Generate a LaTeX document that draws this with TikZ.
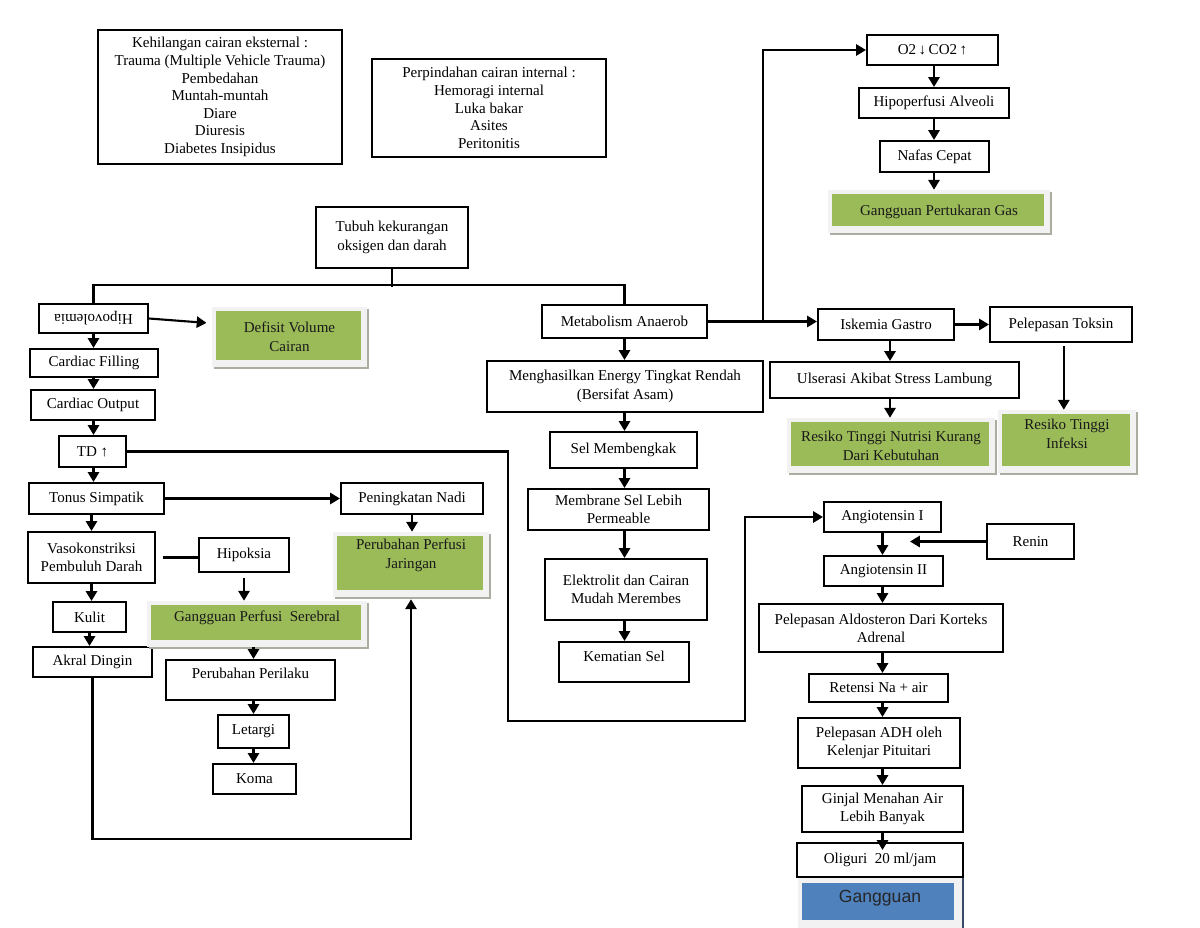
\documentclass[tikz,border=0pt]{standalone}
\usepackage{fontspec}
\setmainfont{Liberation Serif}
\newfontfamily\sansf{Liberation Sans}
\usetikzlibrary{arrows.meta,shadows}
\definecolor{gr}{HTML}{9BBB59}
\definecolor{bl}{HTML}{4F81BD}
\definecolor{frm}{HTML}{F2F2F2}
\definecolor{shd}{HTML}{A9AEA0}
\definecolor{bshd}{HTML}{3A4A66}
\newcommand\mkbox[7][box]{\node[#1, minimum width={(#5-#3)*0.025cm}, minimum height={(#6-#4)*0.025cm}] (#2) at ({(#3+#5)/2},{(#4+#6)/2}) {#7};}
\tikzset{
  box/.style={draw, line width=1.5pt, inner sep=0pt, align=center, fill=white,
    font=\fontsize{10.7}{13}\selectfont},
  gbox/.style={fill=frm, inner sep=0pt, align=center, text=black!90,
    font=\fontsize{10.7}{13.5}\selectfont,
    drop shadow={shadow xshift=0.05cm, shadow yshift=-0.05cm, fill=shd, opacity=1},
    path picture={\fill[gr] ([shift={(4,4)}]path picture bounding box.north west) rectangle ([shift={(-6,-7)}]path picture bounding box.south east);}},
  bbox/.style={fill=frm, inner sep=0pt, align=center, text=black!85,
    font=\sansf\fontsize{12.5}{14}\selectfont, text depth=10pt,
    drop shadow={shadow xshift=0.05cm, shadow yshift=0cm, fill=bshd, opacity=1},
    path picture={\fill[bl] ([shift={(4,5)}]path picture bounding box.north west) rectangle ([shift={(-8,-8)}]path picture bounding box.south east);}},
  ln/.style={line width=1.5pt},
  arr/.style={line width=1.5pt, -{Triangle[length=7pt,width=8pt]}}
}
\begin{document}
\begin{tikzpicture}[x=0.025cm,y=-0.025cm]
\useasboundingbox (0,0) rectangle (1200,927);
% top boxes
\mkbox[box,font=\fontsize{10.7}{12.5}\selectfont]{keh}{98}{30}{342}{164}{Kehilangan cairan eksternal :\\Trauma (Multiple Vehicle Trauma)\\Pembedahan\\Muntah-muntah\\Diare\\Diuresis\\Diabetes Insipidus}
\mkbox[box,font=\fontsize{10.7}{12.5}\selectfont]{perp}{372}{59}{606}{157}{Perpindahan cairan internal :\\Hemoragi internal\\Luka bakar\\Asites\\Peritonitis}
\mkbox{tubuh}{316}{207}{468}{268}{Tubuh kekurangan\\oksigen dan darah}
% left column
\mkbox{hipo}{39}{304}{148}{333}{\rotatebox{180}{Hipovolemia}}
\mkbox[gbox]{defisit}{212}{307}{367}{367}{Defisit Volume\\Cairan}
\mkbox{cfill}{30}{349}{158}{377}{Cardiac Filling}
\mkbox{cout}{31}{390}{155}{420}{Cardiac Output}
\mkbox{td}{59}{436}{126}{467}{TD ↑}
\mkbox{tonus}{29}{483}{164}{514}{Tonus Simpatik}
\mkbox{nadi}{341}{483}{483}{514}{Peningkatan Nadi}
\mkbox[gbox]{pjar}{333}{532}{489}{597}{Perubahan Perfusi\\Jaringan\\[2pt]}
\mkbox{vaso}{28}{532}{155}{583}{Vasokonstriksi\\Pembuluh Darah}
\mkbox{hipok}{199}{538}{289}{572}{Hipoksia}
\mkbox{kulit}{53}{602}{126}{632}{Kulit}
\mkbox{akral}{33}{647}{152}{677}{Akral Dingin}
\mkbox[gbox]{serebral}{147}{601}{367}{647}{Gangguan Perfusi\ \ Serebral\\[-2pt]\mbox{}}
\mkbox{perilaku}{166}{660}{335}{700}{Perubahan Perilaku\\[-3pt]\mbox{}}
\mkbox{letargi}{218}{715}{289}{748}{Letargi}
\mkbox{koma}{213}{764}{296}{794}{Koma}
% middle column
\mkbox{metab}{542}{305}{707}{338}{Metabolism Anaerob}
\mkbox{energi}{487}{361}{763}{412}{Menghasilkan Energy Tingkat Rendah\\(Bersifat Asam)}
\mkbox{sel}{550}{432}{697}{468}{Sel Membengkak}
\mkbox{membr}{528}{489}{709}{530}{Membrane Sel Lebih\\Permeable}
\mkbox{elek}{545}{559}{707}{620}{Elektrolit dan Cairan\\Mudah Merembes}
\mkbox{mati}{559}{642}{689}{682}{Kematian Sel\\[-5pt]\mbox{}}
% top right
\mkbox{otwo}{867}{35}{998}{65}{O2\,↓\,CO2\,↑}
\mkbox{alveoli}{859}{88}{1009}{118}{Hipoperfusi Alveoli}
\mkbox{nafas}{880}{141}{989}{172}{Nafas Cepat}
\mkbox[gbox]{gas}{828}{190}{1050}{233}{Gangguan Pertukaran Gas}
% right
\mkbox{iskemia}{818}{309}{954}{340}{Iskemia Gastro}
\mkbox{toksin}{990}{307}{1132}{342}{Pelepasan Toksin}
\mkbox{ulser}{770}{362}{1019}{398}{Ulserasi Akibat Stress Lambung}
\mkbox[gbox]{nutrisi}{787}{418}{995}{473}{Resiko Tinggi Nutrisi Kurang\\Dari Kebutuhan}
\mkbox[gbox]{infeksi}{998}{410}{1136}{473}{Resiko Tinggi\\Infeksi\\[-2pt]\mbox{}}
\mkbox{ang1}{824}{502}{941}{532}{Angiotensin I}
\mkbox{renin}{987}{524}{1074}{559}{Renin}
\mkbox{ang2}{824}{556}{943}{586}{Angiotensin II}
\mkbox{aldo}{759}{604}{1003}{652}{Pelepasan Aldosteron Dari Korteks\\Adrenal}
\mkbox{retensi}{809}{674}{948}{702}{Retensi Na + air}
\mkbox{adh}{798}{718}{960}{768}{Pelepasan ADH oleh\\Kelenjar Pituitari}
\mkbox{ginjal}{802}{786}{963}{832}{Ginjal Menahan Air\\Lebih Banyak}
\mkbox{oliguri}{797}{843}{963}{877}{Oliguri\ \ 20 ml/jam}
\mkbox[bbox]{gangguan}{798}{878}{962}{928}{Gangguan}
% connectors
\draw[ln] (tubuh.south) -- ++(0,18);
\draw[ln] (hipo.north) -- ++(0,-18) -| (metab.north);
\draw[arr, shorten >=0.13cm] (hipo.east) -- (defisit.170);
\draw[arr] (hipo.south) -- (hipo.south |- cfill.north);
\draw[arr] (hipo.south |- cfill.south) -- (hipo.south |- cout.north);
\draw[arr] (hipo.south |- cout.south) -- (hipo.south |- td.north);
\draw[arr] (hipo.south |- td.south) -- (hipo.south |- tonus.north);
\draw[arr] (vaso.north |- tonus.south) -- (vaso.north);
\draw[arr] (vaso.south) -- (vaso.south |- kulit.north);
\draw[arr] (kulit.south) -- (kulit.south |- akral.north);
\draw[arr] (tonus.east) -- (nadi.west);
\draw[arr] (nadi.south) -- (nadi.south |- pjar.north);
\draw[ln, shorten <=0.17cm] (vaso.east) -- (vaso.east -| hipok.west);
\draw[arr, shorten <=0.13cm] (hipok.south) -- (hipok.south |- serebral.north);
\draw[arr] (letargi.north |- serebral.south) -- (letargi.north |- perilaku.north);
\draw[arr] (letargi.north |- perilaku.south) -- (letargi.north);
\draw[arr] (letargi.south) -- (letargi.south |- koma.north);
\draw[arr, shorten >=0.05cm] (akral.south) -- ++(0,161) -| (pjar.south);
\coordinate (c1) at (508,721);
\coordinate (c2) at (745,721);
\draw[arr] (td.east) -| (c1) -- (c2) |- (ang1.west);
% middle column
\draw[arr] (metab.south) -- (metab.south |- energi.north);
\draw[arr] (metab.south |- energi.south) -- (metab.south |- sel.north);
\draw[arr] (metab.south |- sel.south) -- (metab.south |- membr.north);
\draw[arr] (metab.south |- membr.south) -- (metab.south |- elek.north);
\draw[arr] (metab.south |- elek.south) -- (metab.south |- mati.north);
\draw[arr] (metab.east) -- (metab.east -| iskemia.west);
\draw[arr] (metab.east) ++(55,0) |- (otwo.west);
\draw[arr] (alveoli.north |- otwo.south) -- (alveoli.north);
\draw[arr] (alveoli.south) -- (alveoli.south |- nafas.north);
\draw[arr] (alveoli.south |- nafas.south) -- (alveoli.south |- gas.north);
% right
\draw[arr] (iskemia.east) -- (iskemia.east -| toksin.west);
\draw[arr] ([xshift=0.1cm]iskemia.south) -- ([xshift=0.1cm]iskemia.south |- ulser.north);
\draw[arr] ([xshift=0.1cm]iskemia.south |- ulser.south) -- ([xshift=0.1cm]iskemia.south |- nutrisi.north);
\draw[arr, shorten <=0.08cm] ([xshift=0.07cm]toksin.south) -- ([xshift=0.07cm]toksin.south |- infeksi.north);
\coordinate (rn) at (910,541.5);
\draw[arr] (renin.west) -- (rn);
\draw[arr] (ang1.south) -- (ang1.south |- ang2.north);
\draw[arr] (ang1.south |- ang2.south) -- (ang1.south |- aldo.north);
\draw[arr] (ang1.south |- aldo.south) -- (ang1.south |- retensi.north);
\draw[arr] (ang1.south |- retensi.south) -- (ang1.south |- adh.north);
\draw[arr] (ang1.south |- adh.south) -- (ang1.south |- ginjal.north);
\draw[arr, shorten >=-0.2cm] (ang1.south |- ginjal.south) -- (ang1.south |- oliguri.north);
\end{tikzpicture}
\end{document}
